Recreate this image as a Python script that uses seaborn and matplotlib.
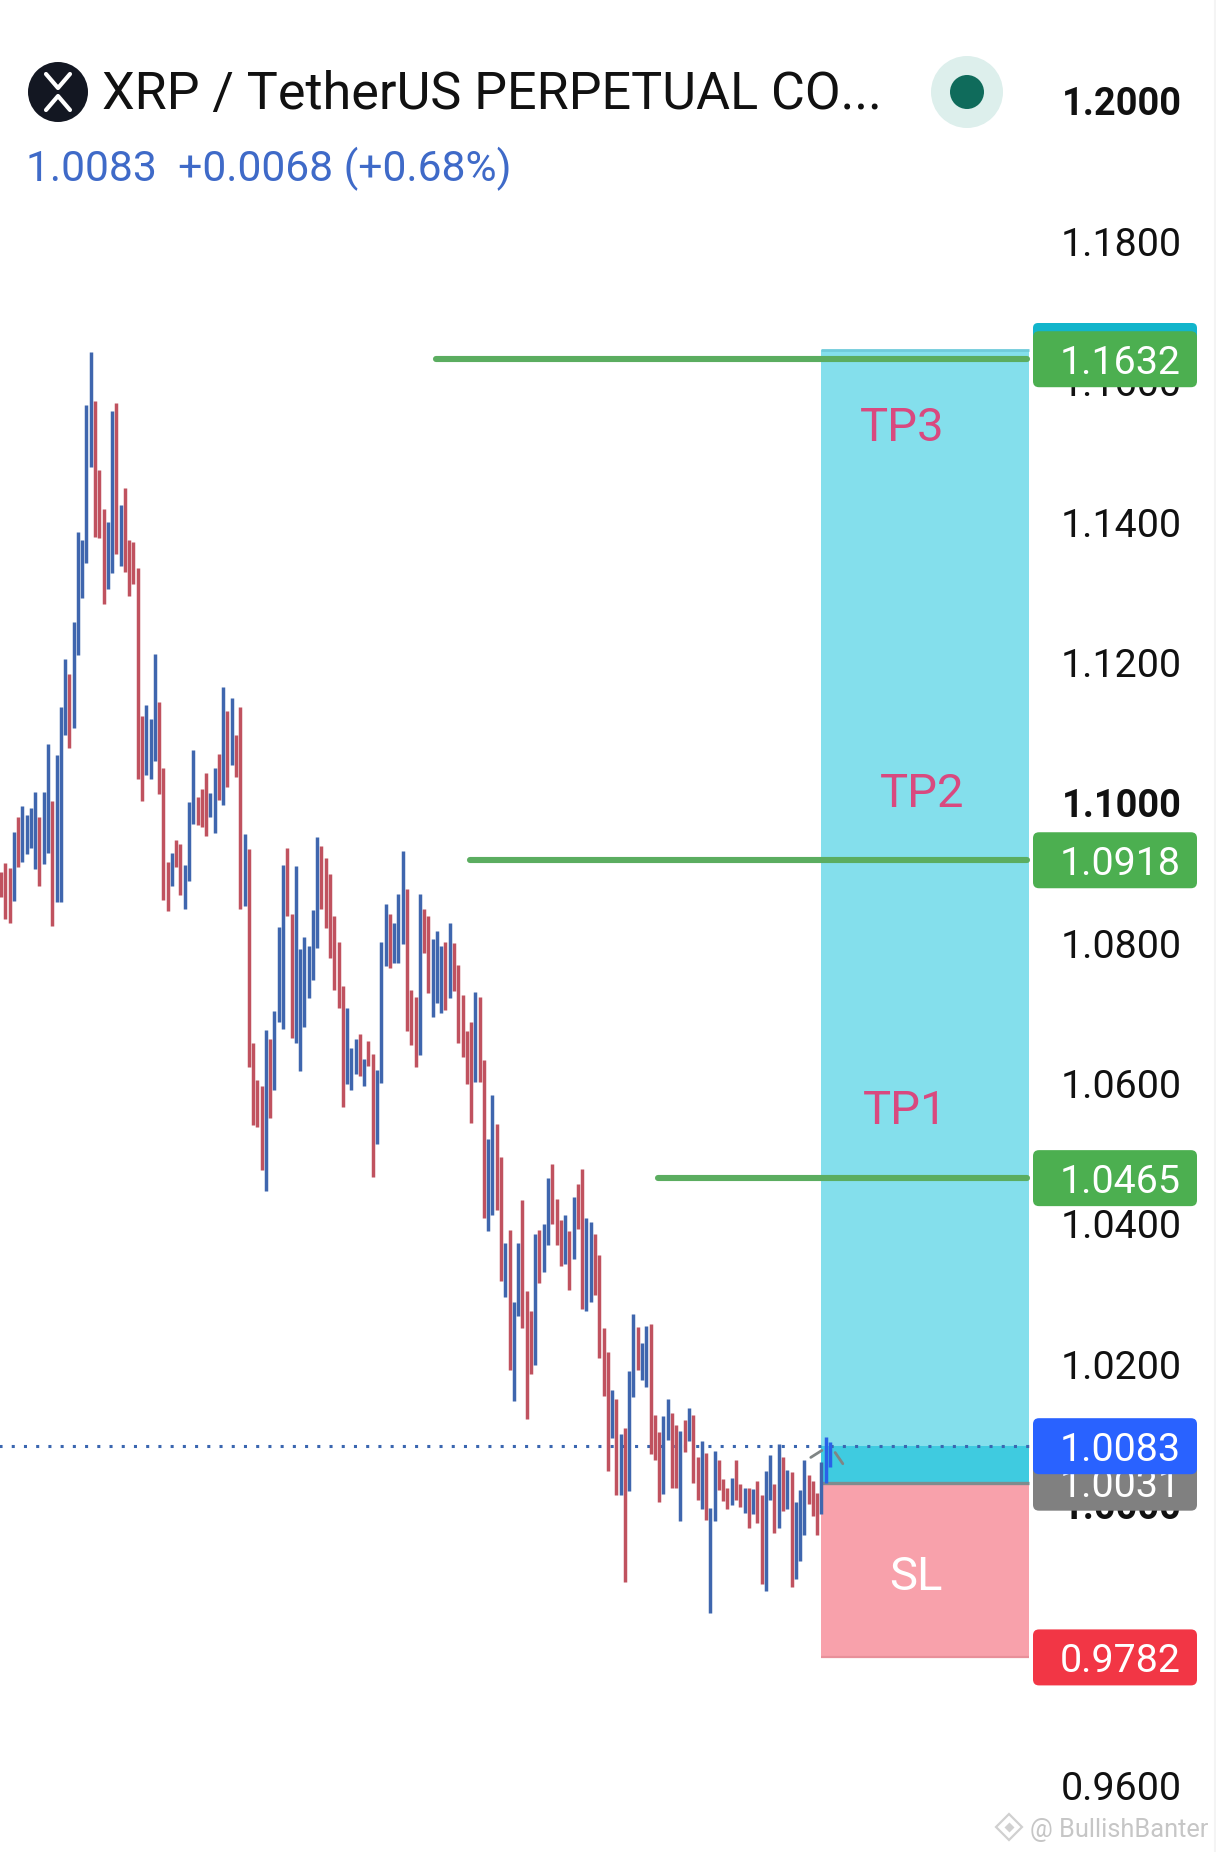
import pandas as pd
import matplotlib
matplotlib.use('Agg')
import matplotlib.pyplot as plt
import seaborn as sns
from matplotlib.patches import FancyBboxPatch, Circle
from matplotlib.lines import Line2D
from matplotlib.transforms import IdentityTransform

# bars, left to right
bar_high = [1.0901,1.0914,1.0907,1.0958,1.0980,1.0996,1.0982,1.0992,1.1015,1.0979,
            1.1015,1.1084,1.1002,1.1068,1.1137,1.1205,1.1183,1.1257,1.1386,1.1374,
            1.1567,1.1642,1.1572,1.1474,1.1418,1.1400,1.1558,1.1570,1.1424,1.1448,
            1.1374,1.1371,1.1335,1.1123,1.1139,1.1119,1.1212,1.1144,1.1050,1.0916,
            1.0928,1.0947,1.0941,1.0911,1.1001,1.1075,1.1008,1.1019,1.1042,1.1014,
            1.1049,1.1069,1.1165,1.1131,1.1149,1.1096,1.1137,1.0956,1.0934,1.0658,
            1.0605,1.0597,1.0676,1.0663,1.0703,1.0823,1.0911,1.0935,1.0842,1.0910,
            1.0792,1.0809,1.0796,1.0847,1.0951,1.0938,1.0921,1.0898,1.0839,1.0802,
            1.0739,1.0707,1.0651,1.0663,1.0670,1.0635,1.0661,1.0642,1.0619,1.0802,
            1.0855,1.0841,1.0829,1.0870,1.0931,1.0877,1.0733,1.0723,1.0870,1.0849,
            1.0839,1.0806,1.0817,1.0796,1.0802,1.0829,1.0800,1.0769,1.0726,1.0675,
            1.0688,1.0730,1.0723,1.0633,1.0521,1.0583,1.0542,1.0495,1.0372,1.0391,
            1.0289,1.0372,1.0434,1.0304,1.0276,1.0385,1.0391,1.0399,1.0465,1.0485,
            1.0435,1.0405,1.0412,1.0389,1.0438,1.0456,1.0478,1.0408,1.0402,1.0385,
            1.0356,1.0251,1.0217,1.0163,1.0150,1.0100,1.0109,1.0190,1.0271,1.0253,
            1.0230,1.0254,1.0257,1.0128,1.0103,1.0126,1.0150,1.0131,1.0113,1.0104,
            1.0120,1.0138,1.0127,1.0067,1.0090,1.0073,0.9995,1.0076,1.0063,1.0036,
            1.0024,1.0037,1.0063,1.0029,1.0023,1.0023,1.0022,1.0033,1.0014,1.0047,
            1.0070,1.0029,1.0086,1.0067,1.0049,1.0046,1.0003,1.0020,1.0064,1.0042,
            1.0033,1.0017,1.0061,1.0096,1.0089]
bar_low = [1.0865,1.0834,1.0828,1.0860,1.0909,1.0916,1.0927,1.0936,1.0905,1.0882,
           1.0912,1.0929,1.0825,1.0858,1.0859,1.1096,1.1078,1.1107,1.1211,1.1292,
           1.1341,1.1479,1.1379,1.1377,1.1283,1.1305,1.1328,1.1355,1.1338,1.1329,
           1.1295,1.1312,1.1034,1.1003,1.1040,1.1034,1.1059,1.1013,1.0862,1.0845,
           1.0882,1.0909,1.0869,1.0849,1.0888,1.0970,1.0968,1.0966,1.0952,1.0980,
           1.0957,1.1004,1.0997,1.1022,1.1054,1.1036,1.0848,1.0853,1.0624,1.0541,
           1.0538,1.0477,1.0447,1.0550,1.0590,1.0687,1.0677,1.0838,1.0665,1.0658,
           1.0617,1.0681,1.0721,1.0748,1.0793,1.0848,1.0821,1.0778,1.0733,1.0708,
           1.0567,1.0599,1.0590,1.0614,1.0611,1.0597,1.0625,1.0466,1.0513,1.0601,
           1.0768,1.0765,1.0771,1.0772,1.0799,1.0674,1.0655,1.0623,1.0640,1.0786,
           1.0729,1.0695,1.0715,1.0701,1.0705,1.0722,1.0731,1.0657,1.0637,1.0599,
           1.0543,1.0602,1.0602,1.0408,1.0390,1.0413,1.0419,1.0319,1.0295,1.0191,
           1.0148,1.0268,1.0252,1.0122,1.0186,1.0199,1.0316,1.0331,1.0369,1.0400,
           1.0370,1.0340,1.0342,1.0305,1.0350,1.0392,1.0278,1.0275,1.0289,1.0298,
           1.0208,1.0155,1.0048,1.0095,1.0014,1.0014,0.9889,1.0019,1.0153,1.0191,
           1.0177,1.0167,1.0072,1.0064,1.0004,1.0015,1.0092,1.0024,1.0024,0.9976,
           1.0075,1.0090,1.0030,1.0007,0.9993,0.9978,0.9846,0.9977,1.0020,1.0005,
           0.9993,0.9999,1.0007,0.9996,0.9988,0.9966,0.9987,0.9973,0.9887,0.9877,
           1.0007,0.9960,0.9966,0.9991,0.9993,0.9883,0.9894,0.9919,0.9956,1.0001,
           0.9983,0.9957,0.9987,1.0031,1.0054]
# u = blue bar, d = red bar, l = the two live bars
bar_dir = list('ddduduuuud' 'uuduuuduuu' 'uuddduudud' 'dddduuuddd' 'udduuudddu'
               'udududdudd' 'dduduuuddu' 'uuuuuddddd' 'duuududduu' 'uduuudddud'
               'duuududddd' 'dudduuddud' 'uuddduduud' 'ddududduud' 'dddududuud'
               'uuddduuddu' 'dudduduudd' 'duddududdu' 'udududuuud' 'ddull')

price_ticks = [1.20,1.18,1.16,1.14,1.12,1.10,1.08,1.06,1.04,1.02,1.00,0.96]
bold_ticks = [1.20,1.10,1.00]
last_price = 1.0083
entry_price = 1.0031
stop_price = 0.9782
box_top = 1.1645
tp_prices = [1.0465,1.0918,1.1632]
tp_starts = [153.8,109.8,101.8]
tp_names = ['TP1','TP2','TP3']
tp_label_x = [211.5,215.5,211]
tp_label_y = [1.0560,1.1012,1.1534]

W, H = 1216, 1852
sns.set_theme(style='white')
plt.rcParams['font.family'] = ['Roboto', 'DejaVu Sans']
ink = '#111111'

rows = []
for i in range(len(bar_high)):
    rows.append({'bar': i, 'price': bar_high[i], 'dir': bar_dir[i]})
    rows.append({'bar': i, 'price': bar_low[i], 'dir': bar_dir[i]})
bars_df = pd.DataFrame(rows)

fig = plt.figure(figsize=(W/100, H/100), dpi=100, facecolor='white')
ax = fig.add_axes([0, 0, 1, 1])
ax.set_axisbelow(True)

right_x = 240.6
box_x = 191.9
ax.fill_between([box_x, right_x], last_price, box_top, color='#84DFEC', lw=0, zorder=1)
ax.fill_between([box_x, right_x], entry_price, last_price, color='#3FCBE0', lw=0, zorder=1)
ax.fill_between([box_x, right_x], stop_price, entry_price, color='#F8A1AB', lw=0, zorder=1)
ax.plot([box_x, right_x], [box_top, box_top], color='#6FCBDA', lw=2, solid_capstyle='butt', zorder=1.2)
ax.plot([box_x, right_x], [entry_price, entry_price], color='#7E8C8E', lw=2.4, solid_capstyle='butt', zorder=1.2)
ax.plot([box_x, right_x], [stop_price, stop_price], color='#E8909A', lw=1.6, solid_capstyle='butt', zorder=1.2)

sns.lineplot(data=bars_df, x='bar', y='price', hue='dir', units='bar', estimator=None,
             palette={'u': '#3F66AE', 'd': '#C0525F', 'l': '#2962E8'},
             legend=False, lw=2.5, solid_capstyle='butt', sort=False, ax=ax, zorder=3)

ax.plot([-1, right_x], [last_price, last_price], color='#3A66B0', lw=2.2,
        dashes=(1, 3), dash_capstyle='butt', zorder=2.5)
for p, s in zip(tp_prices, tp_starts):
    ax.plot([s, right_x - 0.5], [p, p], color='#5BAD60', lw=4.4, solid_capstyle='round', zorder=2)
ax.plot([189.5, 192.1], [1.0067, 1.0077], color='#7F8585', lw=2, zorder=3.5)
ax.plot([195.2, 197.0], [1.0074, 1.0058], color='#7F8585', lw=2, zorder=3.5)

for n, x, y in zip(tp_names, tp_label_x, tp_label_y):
    ax.text(x, y, n, color='#D9497F', fontsize=34, ha='center', va='center', zorder=4)
ax.text(214.1, 0.9897, 'SL', color='white', fontsize=34, ha='center', va='center', zorder=4)

ax.set_xlim(-0.234, 284.33)
ax.set_ylim(0.95047, 1.21439)
ax.set_xlabel('')
ax.set_ylabel('')
ax.set_xticks([])
ax.set_yticks(price_ticks)
ax.set_yticklabels(['%.4f' % p for p in price_ticks])
ax.yaxis.tick_right()
ax.tick_params(axis='y', length=0, pad=-24.7, labelsize=28.4, labelcolor=ink)
for lab, p in zip(ax.get_yticklabels(), price_ticks):
    lab.set_ha('right')
    if p in bold_ticks:
        lab.set_fontweight('bold')
        lab.set_fontsize(27.4)
sns.despine(ax=ax, left=True, right=True, top=True, bottom=True)

px = IdentityTransform()

def fy(y):
    return H - y

def badge(price, text, color, z):
    y = ax.transData.transform((0, price))[1]
    ax.add_patch(FancyBboxPatch((1033, y - 28), 164, 56, boxstyle='round,pad=0,rounding_size=6',
                                fc=color, ec='none', transform=px, zorder=z, clip_on=False))
    ax.text(1181, y, text, color='white', fontsize=28.4, ha='right', va='center_baseline',
            transform=px, zorder=z + 0.1)

ax.add_patch(FancyBboxPatch((1033, fy(344)), 164, 21, boxstyle='round,pad=0,rounding_size=5',
                            fc='#12B5CB', ec='none', transform=px, zorder=5))
badge(tp_prices[2], '1.1632', '#4CAF50', 5.2)
badge(tp_prices[1], '1.0918', '#4CAF50', 5.2)
badge(tp_prices[0], '1.0465', '#4CAF50', 5.2)
badge(entry_price, '1.0031', '#808080', 5.2)
badge(last_price, '1.0083', '#2962FF', 5.6)
badge(stop_price, '0.9782', '#F23645', 5.2)

# header
ax.add_patch(Circle((58, fy(92)), 30, fc='#131722', ec='none', transform=px, zorder=6))
for seg in ([(46, 74), (58, 88), (70, 74)], [(46, 110), (58, 96), (70, 110)]):
    ax.add_line(Line2D([s[0] for s in seg], [fy(s[1]) for s in seg], color='white', lw=3,
                       transform=px, zorder=6.1))
ax.text(102, fy(90), 'XRP / TetherUS PERPETUAL CO...', color=ink, fontsize=37.5,
        ha='left', va='center_baseline', transform=px, zorder=6)
ax.text(26, fy(164), '1.0083  +0.0068 (+0.68%)', color='#3F6AC8', fontsize=30.7,
        ha='left', va='center_baseline', transform=px, zorder=6)
ax.add_patch(Circle((967, fy(92)), 36, fc='#DDEFEC', ec='none', transform=px, zorder=6))
ax.add_patch(Circle((967, fy(92)), 17, fc='#0F6B5B', ec='none', transform=px, zorder=6.1))

# watermark and the pale edge of the screenshot
ax.text(1030, fy(1827), '@ BullishBanter', color='#C6C6C6', fontsize=18.3, ha='left',
        va='center_baseline', transform=px, zorder=6)
ax.add_line(Line2D([1009], [fy(1827)], marker='D', ms=13, mfc='none', mec='#D0D0D0', mew=1.6,
                   transform=px, zorder=6))
ax.add_line(Line2D([1009], [fy(1827)], marker='D', ms=5, mfc='#D0D0D0', mec='none',
                   transform=px, zorder=6))
ax.add_line(Line2D([1214.5, 1214.5], [0, H], color='#F4F4F4', lw=2.2, transform=px, zorder=0.2))

fig.savefig('out.png', dpi=100, facecolor='white')
